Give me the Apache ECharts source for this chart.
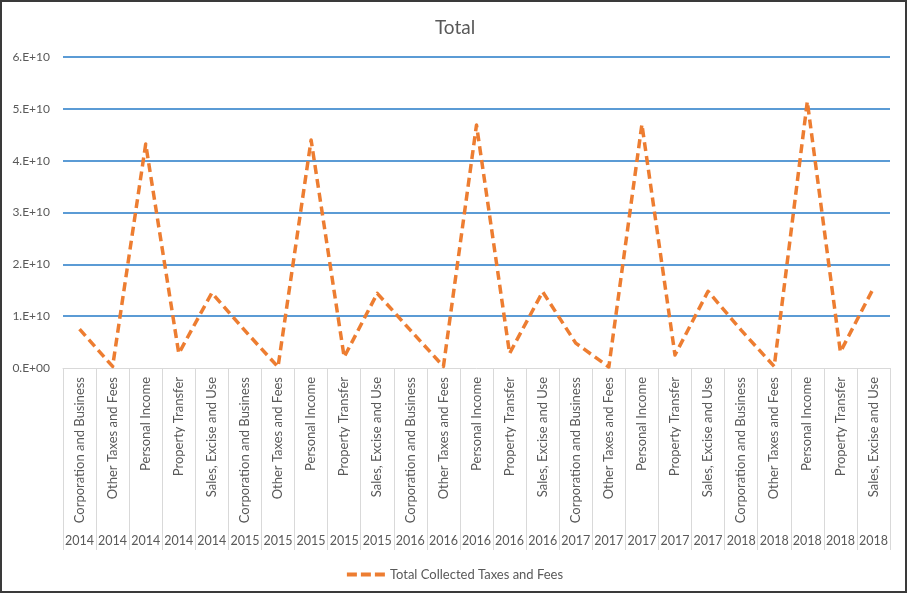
<!DOCTYPE html>
<html>
<head>
<meta charset="utf-8">
<script src="https://cdn.jsdelivr.net/npm/echarts@6/dist/echarts.min.js"></script>
<style>
html,body{margin:0;padding:0;background:#fff;}
#chart{width:910px;height:594px;}
</style>
</head>
<body>
<div id="chart"></div>
<script>
const taxTypes = ['Corporation and Business','Other Taxes and Fees','Personal Income','Property Transfer','Sales, Excise and Use'];
const years = ['2014','2015','2016','2017','2018'];
const values2014 = [7.5e9, 3e8, 4.32e10, 2.8e9, 1.45e10];
const values2015 = [7.2e9, 2e8, 4.4e10, 2.1e9, 1.44e10];
const values2016 = [7.3e9, 3e8, 4.69e10, 2.8e9, 1.47e10];
const values2017 = [4.8e9, 2e8, 4.7e10, 2.5e9, 1.48e10];
const values2018 = [7.3e9, 3e8, 5.14e10, 3.1e9, 1.54e10];
const seriesName = 'Total Collected Taxes and Fees';
const yTicks = [0, 1e10, 2e10, 3e10, 4e10, 5e10, 6e10];

const byYear = [values2014, values2015, values2016, values2017, values2018];
const catLabels = [], yearLabels = [], values = [];
years.forEach((y, i) => {
  taxTypes.forEach((t, j) => {
    catLabels.push(t);
    yearLabels.push(y);
    values.push(byYear[i][j]);
  });
});

const chart = echarts.init(document.getElementById('chart'));
const gray = '#595959';
const font = 'Lato, "Open Sans", sans-serif';
chart.setOption({
  animation: false,
  textStyle: { fontFamily: font },
  title: {
    text: 'Total', left: 'center', top: 13,
    textStyle: { fontFamily: font, fontSize: 19, fontWeight: 'normal', color: gray }
  },
  legend: {
    data: [seriesName], left: 'center', top: 563,
    icon: 'path://M0,0h10v4h-10z M14,0h10v4h-10z M28,0h10v4h-10z',
    itemWidth: 38, itemHeight: 4, itemGap: 5,
    textStyle: { fontFamily: font, fontSize: 13, color: gray }
  },
  grid: { left: 63, right: 20, top: 57, bottom: 226 },
  xAxis: [
    {
      type: 'category', data: catLabels, position: 'bottom',
      axisLine: { show: true, lineStyle: { color: '#d9d9d9', width: 1 } },
      axisTick: { show: true, length: 182, lineStyle: { color: '#d9d9d9' } },
      axisLabel: { interval: 0, rotate: 90, margin: 9, fontSize: 13, color: gray, fontFamily: font }
    },
    {
      type: 'category', data: yearLabels, position: 'bottom',
      axisLine: { show: false }, axisTick: { show: false },
      axisLabel: { interval: 0, margin: 166, fontSize: 12.5, color: gray, fontFamily: font }
    }
  ],
  yAxis: {
    type: 'value', min: yTicks[0], max: yTicks[yTicks.length - 1], interval: 1e10,
    axisLine: { show: false }, axisTick: { show: false },
    axisLabel: {
      margin: 13, fontSize: 12, color: gray, fontFamily: font,
      formatter: v => v === 0 ? '0.E+00' : (v / 1e10).toFixed(0) + '.E+10'
    },
    splitLine: {
      lineStyle: {
        color: ['rgba(0,0,0,0)', '#5b9bd5', '#5b9bd5', '#5b9bd5', '#5b9bd5', '#5b9bd5', '#5b9bd5'],
        width: 2.2
      }
    }
  },
  series: [{
    name: seriesName, type: 'line', data: values, xAxisIndex: 0,
    showSymbol: false, symbol: 'none',
    itemStyle: { color: '#ed7d31' },
    lineStyle: { color: '#ed7d31', width: 3.5, type: [9, 5], cap: 'butt', join: 'round' }
  }],
  graphic: [{
    type: 'rect', shape: { x: 1, y: 1, width: 905, height: 591 },
    style: { fill: 'none', stroke: '#3a3a3a', lineWidth: 2 }, silent: true
  }]
});
</script>
</body>
</html>
